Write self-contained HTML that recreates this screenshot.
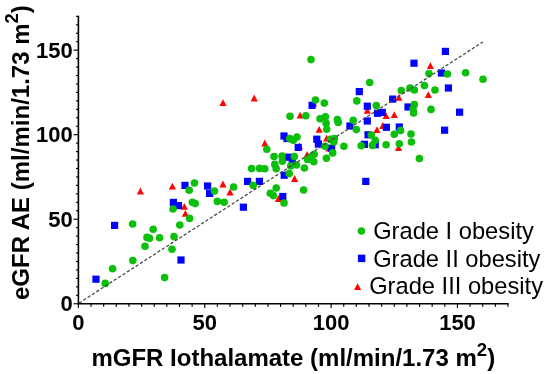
<!DOCTYPE html>
<html><head><meta charset="utf-8"><title>eGFR AE vs mGFR Iothalamate</title>
<style>
html,body{margin:0;padding:0;background:#fff;}
svg{display:block;}
text{font-family:"Liberation Sans",Arial,sans-serif;fill:#000;}
.b{font-weight:bold;font-size:22px;}
.t{font-weight:bold;font-size:24px;}
.l{font-size:23.7px;}
</style></head><body>
<svg width="550" height="374" viewBox="0 0 550 374">
<rect width="550" height="374" fill="#fff"/>
<g>
<polygon points="140.4,187.6 144.0,194.4 136.8,194.4" fill="#ff0505"/>
<polygon points="172.4,182.8 176.0,189.6 168.8,189.6" fill="#ff0505"/>
<polygon points="223.0,180.6 226.6,187.4 219.4,187.4" fill="#ff0505"/>
<polygon points="230.0,188.6 233.6,195.4 226.4,195.4" fill="#ff0505"/>
<polygon points="184.4,203.0 188.0,209.8 180.8,209.8" fill="#ff0505"/>
<polygon points="185.4,210.0 189.0,216.8 181.8,216.8" fill="#ff0505"/>
<polygon points="278.4,195.1 282.0,201.9 274.8,201.9" fill="#ff0505"/>
<polygon points="223.0,99.2 226.6,106.0 219.4,106.0" fill="#ff0505"/>
<polygon points="254.2,94.6 257.8,101.4 250.6,101.4" fill="#ff0505"/>
<polygon points="264.8,139.6 268.4,146.4 261.2,146.4" fill="#ff0505"/>
<polygon points="294.6,175.1 298.2,181.9 291.0,181.9" fill="#ff0505"/>
<polygon points="299.5,142.6 303.1,149.4 295.9,149.4" fill="#ff0505"/>
<polygon points="307.0,151.1 310.6,157.9 303.4,157.9" fill="#ff0505"/>
<polygon points="319.2,125.9 322.8,132.7 315.6,132.7" fill="#ff0505"/>
<polygon points="326.7,134.7 330.3,141.5 323.1,141.5" fill="#ff0505"/>
<polygon points="329.0,144.6 332.6,151.4 325.4,151.4" fill="#ff0505"/>
<polygon points="377.0,126.2 380.6,133.0 373.4,133.0" fill="#ff0505"/>
<polygon points="382.8,122.1 386.4,128.9 379.2,128.9" fill="#ff0505"/>
<polygon points="398.5,144.3 402.1,151.1 394.9,151.1" fill="#ff0505"/>
<polygon points="313.6,99.7 317.2,106.5 310.0,106.5" fill="#ff0505"/>
<polygon points="300.1,111.8 303.7,118.6 296.5,118.6" fill="#ff0505"/>
<polygon points="367.3,106.9 370.9,113.7 363.7,113.7" fill="#ff0505"/>
<polygon points="386.1,112.3 389.7,119.1 382.5,119.1" fill="#ff0505"/>
<polygon points="394.3,111.2 397.9,118.0 390.7,118.0" fill="#ff0505"/>
<polygon points="398.9,93.9 402.5,100.7 395.3,100.7" fill="#ff0505"/>
<polygon points="428.4,91.2 432.0,98.0 424.8,98.0" fill="#ff0505"/>
<polygon points="430.4,62.2 434.0,69.0 426.8,69.0" fill="#ff0505"/>
</g><g>
<rect x="92.4" y="275.6" width="7.2" height="7.2" fill="#0202ff"/>
<rect x="177.4" y="256.4" width="7.2" height="7.2" fill="#0202ff"/>
<rect x="169.8" y="198.8" width="7.2" height="7.2" fill="#0202ff"/>
<rect x="174.9" y="202.0" width="7.2" height="7.2" fill="#0202ff"/>
<rect x="111.0" y="221.8" width="7.2" height="7.2" fill="#0202ff"/>
<rect x="181.4" y="181.8" width="7.2" height="7.2" fill="#0202ff"/>
<rect x="204.0" y="182.4" width="7.2" height="7.2" fill="#0202ff"/>
<rect x="206.0" y="189.8" width="7.2" height="7.2" fill="#0202ff"/>
<rect x="239.8" y="203.6" width="7.2" height="7.2" fill="#0202ff"/>
<rect x="244.0" y="177.8" width="7.2" height="7.2" fill="#0202ff"/>
<rect x="255.8" y="177.8" width="7.2" height="7.2" fill="#0202ff"/>
<rect x="280.6" y="171.6" width="7.2" height="7.2" fill="#0202ff"/>
<rect x="279.2" y="192.9" width="7.2" height="7.2" fill="#0202ff"/>
<rect x="284.9" y="153.6" width="7.2" height="7.2" fill="#0202ff"/>
<rect x="288.7" y="157.4" width="7.2" height="7.2" fill="#0202ff"/>
<rect x="280.4" y="132.4" width="7.2" height="7.2" fill="#0202ff"/>
<rect x="283.4" y="134.9" width="7.2" height="7.2" fill="#0202ff"/>
<rect x="362.2" y="177.8" width="7.2" height="7.2" fill="#0202ff"/>
<rect x="294.6" y="143.8" width="7.2" height="7.2" fill="#0202ff"/>
<rect x="313.2" y="135.6" width="7.2" height="7.2" fill="#0202ff"/>
<rect x="314.8" y="140.5" width="7.2" height="7.2" fill="#0202ff"/>
<rect x="328.0" y="144.7" width="7.2" height="7.2" fill="#0202ff"/>
<rect x="346.3" y="122.4" width="7.2" height="7.2" fill="#0202ff"/>
<rect x="363.7" y="117.4" width="7.2" height="7.2" fill="#0202ff"/>
<rect x="382.8" y="123.7" width="7.2" height="7.2" fill="#0202ff"/>
<rect x="395.7" y="123.4" width="7.2" height="7.2" fill="#0202ff"/>
<rect x="364.4" y="131.2" width="7.2" height="7.2" fill="#0202ff"/>
<rect x="360.8" y="140.7" width="7.2" height="7.2" fill="#0202ff"/>
<rect x="371.6" y="141.1" width="7.2" height="7.2" fill="#0202ff"/>
<rect x="308.5" y="101.7" width="7.2" height="7.2" fill="#0202ff"/>
<rect x="355.7" y="88.0" width="7.2" height="7.2" fill="#0202ff"/>
<rect x="363.7" y="102.6" width="7.2" height="7.2" fill="#0202ff"/>
<rect x="373.9" y="109.7" width="7.2" height="7.2" fill="#0202ff"/>
<rect x="378.7" y="108.8" width="7.2" height="7.2" fill="#0202ff"/>
<rect x="389.1" y="95.5" width="7.2" height="7.2" fill="#0202ff"/>
<rect x="404.4" y="103.4" width="7.2" height="7.2" fill="#0202ff"/>
<rect x="444.8" y="84.4" width="7.2" height="7.2" fill="#0202ff"/>
<rect x="456.0" y="108.6" width="7.2" height="7.2" fill="#0202ff"/>
<rect x="441.0" y="126.6" width="7.2" height="7.2" fill="#0202ff"/>
<rect x="441.8" y="47.8" width="7.2" height="7.2" fill="#0202ff"/>
<rect x="410.4" y="59.6" width="7.2" height="7.2" fill="#0202ff"/>
<rect x="437.8" y="69.4" width="7.2" height="7.2" fill="#0202ff"/>
</g><g>
<circle cx="105.2" cy="283.4" r="3.8" fill="#0bbf0b"/>
<circle cx="112.6" cy="268.8" r="3.8" fill="#0bbf0b"/>
<circle cx="132.8" cy="260.6" r="3.8" fill="#0bbf0b"/>
<circle cx="145.0" cy="246.2" r="3.8" fill="#0bbf0b"/>
<circle cx="147.0" cy="237.4" r="3.8" fill="#0bbf0b"/>
<circle cx="149.6" cy="238.2" r="3.8" fill="#0bbf0b"/>
<circle cx="159.6" cy="237.8" r="3.8" fill="#0bbf0b"/>
<circle cx="174.0" cy="236.6" r="3.8" fill="#0bbf0b"/>
<circle cx="172.0" cy="249.2" r="3.8" fill="#0bbf0b"/>
<circle cx="164.6" cy="277.6" r="3.8" fill="#0bbf0b"/>
<circle cx="173.0" cy="209.0" r="3.8" fill="#0bbf0b"/>
<circle cx="132.6" cy="224.0" r="3.8" fill="#0bbf0b"/>
<circle cx="153.2" cy="229.2" r="3.8" fill="#0bbf0b"/>
<circle cx="179.8" cy="225.0" r="3.8" fill="#0bbf0b"/>
<circle cx="194.4" cy="183.0" r="3.8" fill="#0bbf0b"/>
<circle cx="189.2" cy="190.2" r="3.8" fill="#0bbf0b"/>
<circle cx="214.4" cy="191.0" r="3.8" fill="#0bbf0b"/>
<circle cx="233.6" cy="187.0" r="3.8" fill="#0bbf0b"/>
<circle cx="217.4" cy="201.4" r="3.8" fill="#0bbf0b"/>
<circle cx="224.2" cy="202.2" r="3.8" fill="#0bbf0b"/>
<circle cx="192.4" cy="202.2" r="3.8" fill="#0bbf0b"/>
<circle cx="195.2" cy="203.6" r="3.8" fill="#0bbf0b"/>
<circle cx="189.6" cy="218.4" r="3.8" fill="#0bbf0b"/>
<circle cx="253.2" cy="185.4" r="3.8" fill="#0bbf0b"/>
<circle cx="251.6" cy="168.6" r="3.8" fill="#0bbf0b"/>
<circle cx="259.6" cy="168.4" r="3.8" fill="#0bbf0b"/>
<circle cx="264.8" cy="168.8" r="3.8" fill="#0bbf0b"/>
<circle cx="274.8" cy="164.4" r="3.8" fill="#0bbf0b"/>
<circle cx="276.2" cy="168.8" r="3.8" fill="#0bbf0b"/>
<circle cx="282.4" cy="161.3" r="3.8" fill="#0bbf0b"/>
<circle cx="289.2" cy="173.6" r="3.8" fill="#0bbf0b"/>
<circle cx="290.7" cy="166.0" r="3.8" fill="#0bbf0b"/>
<circle cx="276.2" cy="188.0" r="3.8" fill="#0bbf0b"/>
<circle cx="270.3" cy="193.2" r="3.8" fill="#0bbf0b"/>
<circle cx="273.4" cy="195.6" r="3.8" fill="#0bbf0b"/>
<circle cx="284.0" cy="203.0" r="3.8" fill="#0bbf0b"/>
<circle cx="303.6" cy="190.0" r="3.8" fill="#0bbf0b"/>
<circle cx="304.4" cy="168.0" r="3.8" fill="#0bbf0b"/>
<circle cx="296.5" cy="165.0" r="3.8" fill="#0bbf0b"/>
<circle cx="307.4" cy="159.5" r="3.8" fill="#0bbf0b"/>
<circle cx="313.8" cy="161.8" r="3.8" fill="#0bbf0b"/>
<circle cx="326.4" cy="158.3" r="3.8" fill="#0bbf0b"/>
<circle cx="290.0" cy="116.2" r="3.8" fill="#0bbf0b"/>
<circle cx="289.8" cy="138.6" r="3.8" fill="#0bbf0b"/>
<circle cx="266.8" cy="149.2" r="3.8" fill="#0bbf0b"/>
<circle cx="274.0" cy="156.5" r="3.8" fill="#0bbf0b"/>
<circle cx="282.0" cy="156.0" r="3.8" fill="#0bbf0b"/>
<circle cx="293.2" cy="140.3" r="3.8" fill="#0bbf0b"/>
<circle cx="297.0" cy="137.0" r="3.8" fill="#0bbf0b"/>
<circle cx="294.3" cy="156.6" r="3.8" fill="#0bbf0b"/>
<circle cx="310.6" cy="157.0" r="3.8" fill="#0bbf0b"/>
<circle cx="314.2" cy="154.3" r="3.8" fill="#0bbf0b"/>
<circle cx="325.0" cy="146.3" r="3.8" fill="#0bbf0b"/>
<circle cx="330.5" cy="139.2" r="3.8" fill="#0bbf0b"/>
<circle cx="334.3" cy="138.6" r="3.8" fill="#0bbf0b"/>
<circle cx="333.8" cy="142.0" r="3.8" fill="#0bbf0b"/>
<circle cx="332.7" cy="152.9" r="3.8" fill="#0bbf0b"/>
<circle cx="343.9" cy="146.3" r="3.8" fill="#0bbf0b"/>
<circle cx="326.1" cy="123.3" r="3.8" fill="#0bbf0b"/>
<circle cx="326.7" cy="129.3" r="3.8" fill="#0bbf0b"/>
<circle cx="320.0" cy="118.7" r="3.8" fill="#0bbf0b"/>
<circle cx="337.4" cy="119.6" r="3.8" fill="#0bbf0b"/>
<circle cx="338.2" cy="122.4" r="3.8" fill="#0bbf0b"/>
<circle cx="353.2" cy="120.2" r="3.8" fill="#0bbf0b"/>
<circle cx="356.3" cy="129.6" r="3.8" fill="#0bbf0b"/>
<circle cx="400.6" cy="130.4" r="3.8" fill="#0bbf0b"/>
<circle cx="394.3" cy="134.3" r="3.8" fill="#0bbf0b"/>
<circle cx="371.3" cy="135.0" r="3.8" fill="#0bbf0b"/>
<circle cx="375.2" cy="140.3" r="3.8" fill="#0bbf0b"/>
<circle cx="361.2" cy="145.8" r="3.8" fill="#0bbf0b"/>
<circle cx="372.4" cy="145.4" r="3.8" fill="#0bbf0b"/>
<circle cx="386.1" cy="144.7" r="3.8" fill="#0bbf0b"/>
<circle cx="399.3" cy="143.8" r="3.8" fill="#0bbf0b"/>
<circle cx="315.5" cy="100.0" r="3.8" fill="#0bbf0b"/>
<circle cx="324.3" cy="103.1" r="3.8" fill="#0bbf0b"/>
<circle cx="305.8" cy="115.7" r="3.8" fill="#0bbf0b"/>
<circle cx="325.4" cy="116.8" r="3.8" fill="#0bbf0b"/>
<circle cx="369.7" cy="82.5" r="3.8" fill="#0bbf0b"/>
<circle cx="356.8" cy="100.9" r="3.8" fill="#0bbf0b"/>
<circle cx="376.3" cy="105.6" r="3.8" fill="#0bbf0b"/>
<circle cx="401.3" cy="90.5" r="3.8" fill="#0bbf0b"/>
<circle cx="410.0" cy="88.0" r="3.8" fill="#0bbf0b"/>
<circle cx="414.4" cy="90.0" r="3.8" fill="#0bbf0b"/>
<circle cx="424.4" cy="85.5" r="3.8" fill="#0bbf0b"/>
<circle cx="435.0" cy="90.0" r="3.8" fill="#0bbf0b"/>
<circle cx="414.4" cy="104.6" r="3.8" fill="#0bbf0b"/>
<circle cx="413.0" cy="109.0" r="3.8" fill="#0bbf0b"/>
<circle cx="413.6" cy="113.0" r="3.8" fill="#0bbf0b"/>
<circle cx="431.0" cy="109.4" r="3.8" fill="#0bbf0b"/>
<circle cx="411.0" cy="134.0" r="3.8" fill="#0bbf0b"/>
<circle cx="411.4" cy="142.0" r="3.8" fill="#0bbf0b"/>
<circle cx="419.4" cy="158.6" r="3.8" fill="#0bbf0b"/>
<circle cx="429.0" cy="73.6" r="3.8" fill="#0bbf0b"/>
<circle cx="447.4" cy="74.0" r="3.8" fill="#0bbf0b"/>
<circle cx="465.6" cy="72.8" r="3.8" fill="#0bbf0b"/>
<circle cx="483.0" cy="79.2" r="3.8" fill="#0bbf0b"/>
<circle cx="311.0" cy="59.6" r="3.8" fill="#0bbf0b"/>
</g>
<line x1="78.9" y1="303.15" x2="482.8" y2="42" stroke="#444" stroke-width="1.25" stroke-dasharray="3.2 2"/>
<g stroke="#000" stroke-width="1.6" fill="none">
<line x1="78.4" y1="15.76" x2="78.4" y2="304.55"/>
<line x1="77.60" y1="303.75" x2="508.56" y2="303.75"/>
</g>
<g stroke="#000" stroke-width="1.15" fill="none">
<line x1="78.40" y1="303.75" x2="78.40" y2="308.05"/>
<line x1="78.4" y1="303.75" x2="73.50" y2="303.75"/>
<line x1="91.04" y1="303.75" x2="91.04" y2="306.85"/>
<line x1="78.4" y1="295.30" x2="76.00" y2="295.30"/>
<line x1="103.67" y1="303.75" x2="103.67" y2="306.85"/>
<line x1="78.4" y1="286.84" x2="76.00" y2="286.84"/>
<line x1="116.31" y1="303.75" x2="116.31" y2="306.85"/>
<line x1="78.4" y1="278.39" x2="76.00" y2="278.39"/>
<line x1="128.94" y1="303.75" x2="128.94" y2="306.85"/>
<line x1="78.4" y1="269.94" x2="76.00" y2="269.94"/>
<line x1="141.58" y1="303.75" x2="141.58" y2="306.85"/>
<line x1="78.4" y1="261.48" x2="76.00" y2="261.48"/>
<line x1="154.21" y1="303.75" x2="154.21" y2="306.85"/>
<line x1="78.4" y1="253.03" x2="76.00" y2="253.03"/>
<line x1="166.85" y1="303.75" x2="166.85" y2="306.85"/>
<line x1="78.4" y1="244.58" x2="76.00" y2="244.58"/>
<line x1="179.48" y1="303.75" x2="179.48" y2="306.85"/>
<line x1="78.4" y1="236.12" x2="76.00" y2="236.12"/>
<line x1="192.12" y1="303.75" x2="192.12" y2="306.85"/>
<line x1="78.4" y1="227.67" x2="76.00" y2="227.67"/>
<line x1="204.75" y1="303.75" x2="204.75" y2="308.05"/>
<line x1="78.4" y1="219.21" x2="73.50" y2="219.21"/>
<line x1="217.39" y1="303.75" x2="217.39" y2="306.85"/>
<line x1="78.4" y1="210.76" x2="76.00" y2="210.76"/>
<line x1="230.02" y1="303.75" x2="230.02" y2="306.85"/>
<line x1="78.4" y1="202.31" x2="76.00" y2="202.31"/>
<line x1="242.66" y1="303.75" x2="242.66" y2="306.85"/>
<line x1="78.4" y1="193.85" x2="76.00" y2="193.85"/>
<line x1="255.29" y1="303.75" x2="255.29" y2="306.85"/>
<line x1="78.4" y1="185.40" x2="76.00" y2="185.40"/>
<line x1="267.93" y1="303.75" x2="267.93" y2="306.85"/>
<line x1="78.4" y1="176.95" x2="76.00" y2="176.95"/>
<line x1="280.56" y1="303.75" x2="280.56" y2="306.85"/>
<line x1="78.4" y1="168.49" x2="76.00" y2="168.49"/>
<line x1="293.20" y1="303.75" x2="293.20" y2="306.85"/>
<line x1="78.4" y1="160.04" x2="76.00" y2="160.04"/>
<line x1="305.83" y1="303.75" x2="305.83" y2="306.85"/>
<line x1="78.4" y1="151.59" x2="76.00" y2="151.59"/>
<line x1="318.47" y1="303.75" x2="318.47" y2="306.85"/>
<line x1="78.4" y1="143.13" x2="76.00" y2="143.13"/>
<line x1="331.10" y1="303.75" x2="331.10" y2="308.05"/>
<line x1="78.4" y1="134.68" x2="73.50" y2="134.68"/>
<line x1="343.74" y1="303.75" x2="343.74" y2="306.85"/>
<line x1="78.4" y1="126.23" x2="76.00" y2="126.23"/>
<line x1="356.37" y1="303.75" x2="356.37" y2="306.85"/>
<line x1="78.4" y1="117.77" x2="76.00" y2="117.77"/>
<line x1="369.00" y1="303.75" x2="369.00" y2="306.85"/>
<line x1="78.4" y1="109.32" x2="76.00" y2="109.32"/>
<line x1="381.64" y1="303.75" x2="381.64" y2="306.85"/>
<line x1="78.4" y1="100.87" x2="76.00" y2="100.87"/>
<line x1="394.27" y1="303.75" x2="394.27" y2="306.85"/>
<line x1="78.4" y1="92.41" x2="76.00" y2="92.41"/>
<line x1="406.91" y1="303.75" x2="406.91" y2="306.85"/>
<line x1="78.4" y1="83.96" x2="76.00" y2="83.96"/>
<line x1="419.55" y1="303.75" x2="419.55" y2="306.85"/>
<line x1="78.4" y1="75.51" x2="76.00" y2="75.51"/>
<line x1="432.18" y1="303.75" x2="432.18" y2="306.85"/>
<line x1="78.4" y1="67.05" x2="76.00" y2="67.05"/>
<line x1="444.82" y1="303.75" x2="444.82" y2="306.85"/>
<line x1="78.4" y1="58.60" x2="76.00" y2="58.60"/>
<line x1="457.45" y1="303.75" x2="457.45" y2="308.05"/>
<line x1="78.4" y1="50.14" x2="73.50" y2="50.14"/>
<line x1="470.09" y1="303.75" x2="470.09" y2="306.85"/>
<line x1="78.4" y1="41.69" x2="76.00" y2="41.69"/>
<line x1="482.72" y1="303.75" x2="482.72" y2="306.85"/>
<line x1="78.4" y1="33.24" x2="76.00" y2="33.24"/>
<line x1="495.36" y1="303.75" x2="495.36" y2="306.85"/>
<line x1="78.4" y1="24.78" x2="76.00" y2="24.78"/>
<line x1="507.99" y1="303.75" x2="507.99" y2="306.85"/>
<line x1="78.4" y1="16.33" x2="76.00" y2="16.33"/>
</g>
<text class="b" x="78.4" y="329.5" text-anchor="middle">0</text>
<text class="b" x="72.8" y="311.4" text-anchor="end">0</text>
<text class="b" x="204.8" y="329.5" text-anchor="middle">50</text>
<text class="b" x="72.8" y="226.8" text-anchor="end">50</text>
<text class="b" x="331.1" y="329.5" text-anchor="middle">100</text>
<text class="b" x="72.8" y="142.3" text-anchor="end">100</text>
<text class="b" x="457.5" y="329.5" text-anchor="middle">150</text>
<text class="b" x="72.8" y="57.7" text-anchor="end">150</text>
<text class="t" x="91.4" y="366" id="xt">mGFR Iothalamate (ml/min/1.73 m<tspan font-size="18.5" dy="-10.5">2</tspan><tspan dy="10.5">)</tspan></text>
<text class="t" id="yt" transform="translate(28.7,300) rotate(-90)">eGFR AE (ml/min/1.73 m<tspan font-size="18.5" dy="-10.5">2</tspan><tspan dy="10.5">)</tspan></text>
<circle cx="361.4" cy="231.0" r="3.8" fill="#0bbf0b"/>
<rect x="357.9" y="254.7" width="7.4" height="7.4" fill="#0202ff"/>
<polygon points="357.6,283.2 361.2,290.0 354.0,290.0" fill="#ff0505"/>
<text class="l" x="373.2" y="238.8" id="l1">Grade I obesity</text>
<text class="l" x="373.2" y="266.5" id="l2">Grade II obesity</text>
<text class="l" x="369.2" y="294.2" id="l3">Grade III obesity</text>
</svg></body></html>
